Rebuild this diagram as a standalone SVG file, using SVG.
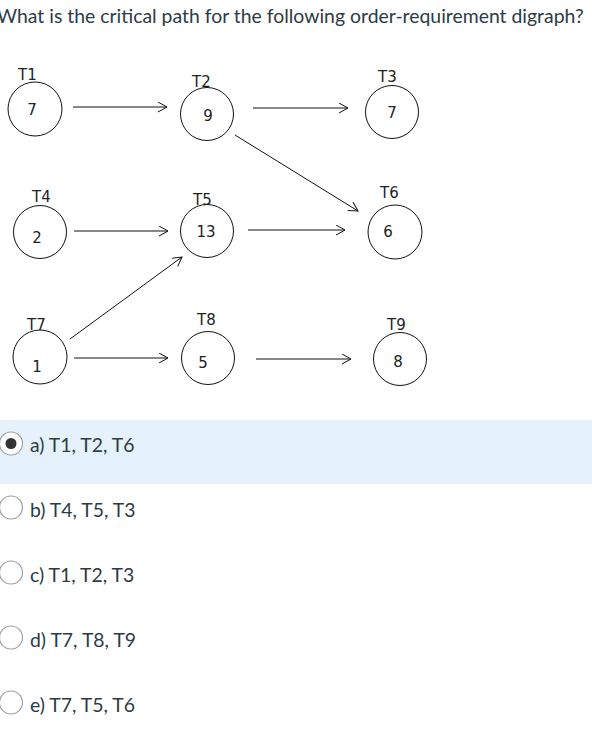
<svg xmlns="http://www.w3.org/2000/svg" width="592" height="730" viewBox="0 0 592 730">
<style>
.q{font-family:Lato,"Open Sans",sans-serif;font-size:19.4px;fill:#2d3b45}
.opt{font-family:Lato,"Open Sans",sans-serif;font-size:19.4px;fill:#2d3b45}
.nc{fill:#fff;stroke:#111;stroke-width:1}
.lb{font-family:"DejaVu Sans",Verdana,sans-serif;font-size:15px;fill:#222}
.val{font-family:"DejaVu Sans",Verdana,sans-serif;font-size:15px;fill:#222;text-anchor:middle}
.e{stroke:#111;stroke-width:1;fill:none}
.rb{fill:#fff;stroke:#a0a0a0;stroke-width:1.2}
</style>
<defs>
<marker id="ah" markerUnits="userSpaceOnUse" markerWidth="12" markerHeight="12" refX="10" refY="5" orient="auto">
<path d="M1,0 L10,5 L1,10" fill="none" stroke="#111" stroke-width="1"/>
</marker>
</defs>
<rect width="592" height="730" fill="#fff"/>
<text class="q" x="-3" y="23">What is the critical path for the following order-requirement digraph?</text>

<g id="connectors">
<line class="e" x1="73" y1="107" x2="167" y2="107" marker-end="url(#ah)"/>
<line class="e" x1="253" y1="108" x2="348" y2="108" marker-end="url(#ah)"/>
<line class="e" x1="235" y1="135" x2="358" y2="211" marker-end="url(#ah)"/>
<line class="e" x1="74" y1="231" x2="168" y2="231" marker-end="url(#ah)"/>
<line class="e" x1="248" y1="230" x2="345" y2="230" marker-end="url(#ah)"/>
<line class="e" x1="70" y1="339" x2="182" y2="257" marker-end="url(#ah)"/>
<line class="e" x1="74" y1="358" x2="168" y2="358" marker-end="url(#ah)"/>
<line class="e" x1="256" y1="359" x2="351" y2="359" marker-end="url(#ah)"/>
</g>

<g id="T1"><circle class="nc" cx="35" cy="109" r="27"/><text class="lb" x="18" y="80">T1</text><text class="val" x="32" y="115">7</text></g>
<g id="T2"><circle class="nc" cx="207" cy="114" r="26.5"/><text class="lb" x="192" y="87">T2</text><text class="val" x="208" y="121">9</text></g>
<g id="T3"><circle class="nc" cx="392" cy="112" r="26.5"/><text class="lb" x="378" y="82">T3</text><text class="val" x="392" y="118">7</text></g>
<g id="T4"><circle class="nc" cx="40" cy="232" r="26.5"/><text class="lb" x="32" y="202">T4</text><text class="val" x="37" y="243">2</text></g>
<g id="T5"><circle class="nc" cx="207" cy="231" r="26.5"/><text class="lb" x="193" y="205">T5</text><text class="val" x="206" y="237">13</text></g>
<g id="T6"><circle class="nc" cx="395" cy="232" r="27"/><text class="lb" x="380" y="198">T6</text><text class="val" x="388" y="237">6</text></g>
<g id="T7"><circle class="nc" cx="40" cy="357" r="27"/><text class="lb" x="27" y="330">T7</text><text class="val" x="37" y="372">1</text></g>
<g id="T8"><circle class="nc" cx="208" cy="358" r="26.5"/><text class="lb" x="197" y="325">T8</text><text class="val" x="203" y="368">5</text></g>
<g id="T9"><circle class="nc" cx="400" cy="359" r="26.5"/><text class="lb" x="387" y="330">T9</text><text class="val" x="398" y="367">8</text></g>

<rect x="0" y="420" width="592" height="64" fill="#e5f1fb"/>
<g id="optA"><circle class="rb" cx="11" cy="443.5" r="11.5"/><circle cx="11" cy="443.5" r="5.5" fill="#333"/><text class="opt" x="30" y="452">a) T1, T2, T6</text></g>
<g id="optB"><circle class="rb" cx="11" cy="507.5" r="11.5"/><text class="opt" x="30" y="517">b) T4, T5, T3</text></g>
<g id="optC"><circle class="rb" cx="11" cy="572.5" r="11.5"/><text class="opt" x="30" y="582">c) T1, T2, T3</text></g>
<g id="optD"><circle class="rb" cx="11" cy="637.5" r="11.5"/><text class="opt" x="30" y="647">d) T7, T8, T9</text></g>
<g id="optE"><circle class="rb" cx="11" cy="702.5" r="11.5"/><text class="opt" x="30" y="712">e) T7, T5, T6</text></g>
</svg>
